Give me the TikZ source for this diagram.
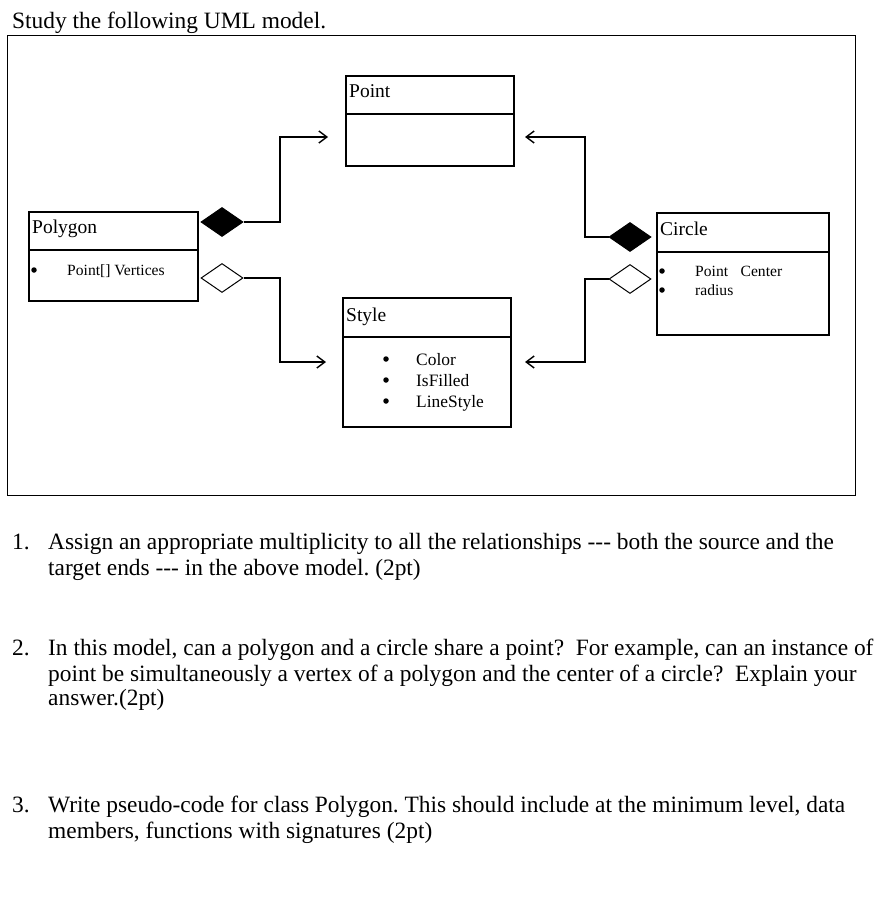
\documentclass[tikz,border=0pt]{standalone}
\usepackage{fontspec}
\setmainfont{Liberation Serif}
\usetikzlibrary{shapes.geometric,arrows.meta}
\begin{document}
\frenchspacing
\begin{tikzpicture}[x=1pt,y=-1pt,
  classbox/.style={draw,line width=1.6pt,inner sep=0pt,anchor=north west},
  divider/.style={line width=1.4pt},
  cname/.style={anchor=base west,inner sep=0pt,font=\fontsize{19.5}{23}\selectfont},
  attr/.style={anchor=base west,inner sep=0pt,font=\fontsize{15.6}{18}\selectfont},
  sattr/.style={anchor=base west,inner sep=0pt,font=\fontsize{17.4}{20}\selectfont},
  bul/.style={circle,fill=black,inner sep=0pt,minimum size=5.5pt},
  qtext/.style={anchor=base west,inner sep=0pt,font=\fontsize{23.4}{28}\selectfont},
  comp/.style={diamond,draw,fill=black,line width=1pt,inner sep=0pt,minimum width=42pt,minimum height=29pt},
  aggr/.style={diamond,draw,fill=white,line width=1pt,inner sep=0pt,minimum width=42pt,minimum height=29pt},
  conn/.style={line width=1.4pt,-{Straight Barb[length=8pt,width=12pt,line width=1.4pt]}}]
\useasboundingbox (0,0) rectangle (882,918);
\fill[white] (0,0) rectangle (882,918);
% title
\node[qtext] (title) at (12,28) {Study the following UML model.};
% frame
\node[draw,line width=1.2pt,inner sep=0pt,anchor=north west,minimum width=848pt,minimum height=460pt] (frame) at (7,35) {};
% Point
\node[classbox,minimum width=168pt,minimum height=90pt] (point) at (345,75) {};
\draw[divider] (345,114) -- (513,114);
\node[cname] (pointname) at (349,97) {Point};
% Style
\node[classbox,minimum width=168pt,minimum height=129pt] (style) at (342,297) {};
\draw[divider] (342,337) -- (510,337);
\node[cname] (stylename) at (346,321) {Style};
\node[bul] (sb1) at (386,359) {};
\node[bul] (sb2) at (386,380) {};
\node[bul] (sb3) at (386,401) {};
\node[sattr] (sa1) at (416,365) {Color};
\node[sattr] (sa2) at (416,386) {IsFilled};
\node[sattr] (sa3) at (416,407) {LineStyle};
% Polygon
\node[classbox,minimum width=169pt,minimum height=89pt] (polygon) at (28,211) {};
\draw[divider] (28,250) -- (197,250);
\node[cname] (polyname) at (32,233) {Polygon};
\node[bul] (pb1) at (34,270) {};
\node[attr] (pa1) at (67,275) {Point[] Vertices};
% Circle
\node[classbox,minimum width=172pt,minimum height=122pt] (circle) at (656,212) {};
\draw[divider] (656,252) -- (828,252);
\node[cname] (circname) at (660,235) {Circle};
\node[bul] (cb1) at (662,271) {};
\node[bul] (cb2) at (662,290) {};
\node[attr] (ca1) at (695,276) {Point\hspace{0.8em}Center};
\node[attr] (ca2) at (695,295) {radius};
% diamonds
\node[comp] (pcomp) at (222,222) {};
\node[aggr] (paggr) at (222,278) {};
\node[comp] (ccomp) at (630,237) {};
\node[aggr] (caggr) at (630,279) {};
% arrow ends
\coordinate (ptL) at (328,137);
\coordinate (ptR) at (525,137);
\coordinate (stL) at (326,362);
\coordinate (stR) at (525,362);
\draw[conn] (pcomp.east) -| (280,137) -- (ptL);
\draw[conn] (paggr.east) -| (280,362) -- (stL);
\draw[conn] (ccomp.west) -| (585,137) -- (ptR);
\draw[conn] (caggr.west) -| (585,362) -- (stR);
% questions
\node[qtext] (q1n) at (12,549) {1.};
\node[qtext] (q1a) at (48,549) {Assign an appropriate multiplicity to all the relationships -{}-{}- both the source and the};
\node[qtext] (q1b) at (48,575) {target ends -{}-{}- in the above model. (2pt)};
\node[qtext] (q2n) at (12,655) {2.};
\node[qtext] (q2a) at (48,655) {In this model, can a polygon and a circle share a point?\ \ For example, can an instance of};
\node[qtext] (q2b) at (48,681) {point be simultaneously a vertex of a polygon and the center of a circle?\ \ Explain your};
\node[qtext] (q2c) at (48,705) {answer.(2pt)};
\node[qtext] (q3n) at (12,812) {3.};
\node[qtext] (q3a) at (48,812) {Write pseudo-code for class Polygon. This should include at the minimum level, data};
\node[qtext] (q3b) at (48,838) {members, functions with signatures (2pt)};
\end{tikzpicture}
\end{document}
